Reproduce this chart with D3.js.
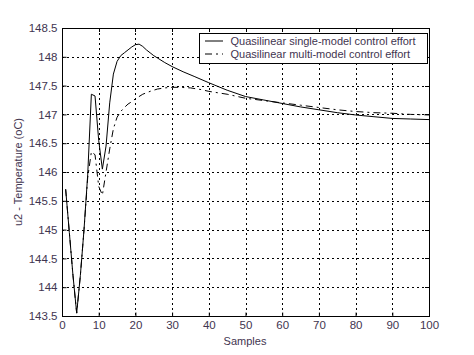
<!DOCTYPE html>
<html><head><meta charset="utf-8">
<script src="https://cdn.jsdelivr.net/npm/d3@7"></script>
<style>body{margin:0;background:#fff}svg{display:block}</style>
</head><body>
<svg id="c" width="474" height="355"></svg>
<script>
const xTicks = [0,10,20,30,40,50,60,70,80,90,100];
const yTicks = [143.5,144,144.5,145,145.5,146,146.5,147,147.5,148,148.5];
const yTickLabels = ["143.5","144","144.5","145","145.5","146","146.5","147","147.5","148","148.5"];

const singleSamples = [1,2,3,4,5,6,7,8,9,10,11,12,13,14,15,16,17,18,19,20,21,22,23,24,25,26,28,30,33,36,40,45,50,55,60,65,70,75,80,85,90,95,100];
const singleValues  = [145.7,144.95,144.2,143.55,144.2,145.0,145.95,147.35,147.32,146.55,146.05,146.45,147.2,147.7,147.92,148.02,148.07,148.12,148.17,148.21,148.22,148.18,148.12,148.07,148.02,147.98,147.9,147.83,147.74,147.66,147.55,147.42,147.31,147.25,147.19,147.13,147.08,147.03,146.99,146.96,146.93,146.92,146.91];

const multiSamples = [1,2,3,4,5,6,7,8,9,10,11,12,13,14,15,16,17,18,19,20,22,24,26,28,30,32,35,38,40,45,50,55,60,65,70,75,80,85,90,95,100];
const multiValues  = [145.7,144.95,144.2,143.55,144.2,145.0,145.9,146.35,146.3,145.75,145.6,146.0,146.4,146.75,146.95,147.05,147.12,147.18,147.22,147.27,147.35,147.4,147.44,147.46,147.47,147.47,147.46,147.43,147.4,147.35,147.28,147.24,147.2,147.16,147.12,147.08,147.05,147.03,147.02,147.0,146.99];

const legendLabels = ["Quasilinear single-model control effort","Quasilinear multi-model control effort"];

const svg = d3.select("#c");
const L=62, R=429, T=28, B=316;
const x = d3.scaleLinear().domain([0,100]).range([L,R]);
const y = d3.scaleLinear().domain([143.5,148.5]).range([B,T]);
const txtCol = "#3f3550";
const font = "Liberation Sans, Arial, sans-serif";

// grid
const g = svg.append("g");
g.selectAll(".gx").data(xTicks.slice(1,-1)).enter().append("line")
  .attr("x1",d=>Math.round(x(d))+0.5).attr("x2",d=>Math.round(x(d))+0.5)
  .attr("y1",T).attr("y2",B).attr("stroke","#000").attr("stroke-width",1).attr("stroke-dasharray","2,3");
g.selectAll(".gy").data(yTicks.slice(1,-1)).enter().append("line")
  .attr("y1",d=>Math.round(y(d))+0.5).attr("y2",d=>Math.round(y(d))+0.5)
  .attr("x1",L).attr("x2",R).attr("stroke","#000").attr("stroke-width",1).attr("stroke-dasharray","2,3");

// axes
const xAxis = d3.axisBottom(x).tickValues(xTicks).tickSize(-4).tickPadding(4).tickFormat(d3.format("d"));
const yAxis = d3.axisLeft(y).tickValues(yTicks).tickSize(-4).tickPadding(5).tickFormat((d,i)=>yTickLabels[i]);
const xa = svg.append("g").attr("transform",`translate(0,${B+0.5})`).call(xAxis);
const ya = svg.append("g").attr("transform",`translate(${L+0.5},0)`).call(yAxis);
[xa,ya].forEach(a=>{
  a.select(".domain").remove();
  a.selectAll("text").attr("fill",txtCol).style("font-family",font).style("font-size","11.5px");
  a.selectAll("line").attr("stroke","#000");
});
// top ticks and right ticks
svg.selectAll(".tt").data(xTicks).enter().append("line")
  .attr("x1",d=>Math.round(x(d))+0.5).attr("x2",d=>Math.round(x(d))+0.5).attr("y1",T).attr("y2",T+4).attr("stroke","#000");
svg.selectAll(".rt").data(yTicks).enter().append("line")
  .attr("y1",d=>Math.round(y(d))+0.5).attr("y2",d=>Math.round(y(d))+0.5).attr("x1",R-4).attr("x2",R).attr("stroke","#000");
svg.append("rect").attr("x",L+0.5).attr("y",T+0.5).attr("width",R-L).attr("height",B-T)
  .attr("fill","none").attr("stroke","#000").attr("stroke-width",1);

// lines
const line = (xs)=>d3.line().x((d,i)=>x(xs[i])).y(d=>y(d));
svg.append("path").attr("d",line(multiSamples)(multiValues)).attr("fill","none")
  .attr("stroke","#000").attr("stroke-width",1).attr("stroke-dasharray","7,4,2,4");
svg.append("path").attr("d",line(singleSamples)(singleValues)).attr("fill","none")
  .attr("stroke","#000").attr("stroke-width",1);

// legend
const lg = svg.append("g");
lg.append("rect").attr("x",199.5).attr("y",33.5).attr("width",228).attr("height",30)
  .attr("fill","#fff").attr("stroke","#000");
const rows=[40.5,53.5];
lg.append("line").attr("x1",205).attr("x2",223).attr("y1",rows[0]+0.5).attr("y2",rows[0]+0.5).attr("stroke","#000");
lg.append("line").attr("x1",205).attr("x2",223).attr("y1",rows[1]+0.5).attr("y2",rows[1]+0.5).attr("stroke","#000").attr("stroke-dasharray","7,4,2,4");
legendLabels.forEach((t,i)=>{
  lg.append("text").attr("x",230.5).attr("y",rows[i]+4).text(t)
    .attr("fill",txtCol).style("font-family",font).style("font-size","11px");
});

// axis labels
svg.append("text").attr("x",245).attr("y",345).attr("text-anchor","middle").text("Samples")
  .attr("fill",txtCol).style("font-family",font).style("font-size","11px");
svg.append("text").attr("transform","translate(22,172) rotate(-90)").attr("text-anchor","middle")
  .text("u2 - Temperature (oC)").attr("fill",txtCol).style("font-family",font).style("font-size","11px");
</script>
</body></html>
